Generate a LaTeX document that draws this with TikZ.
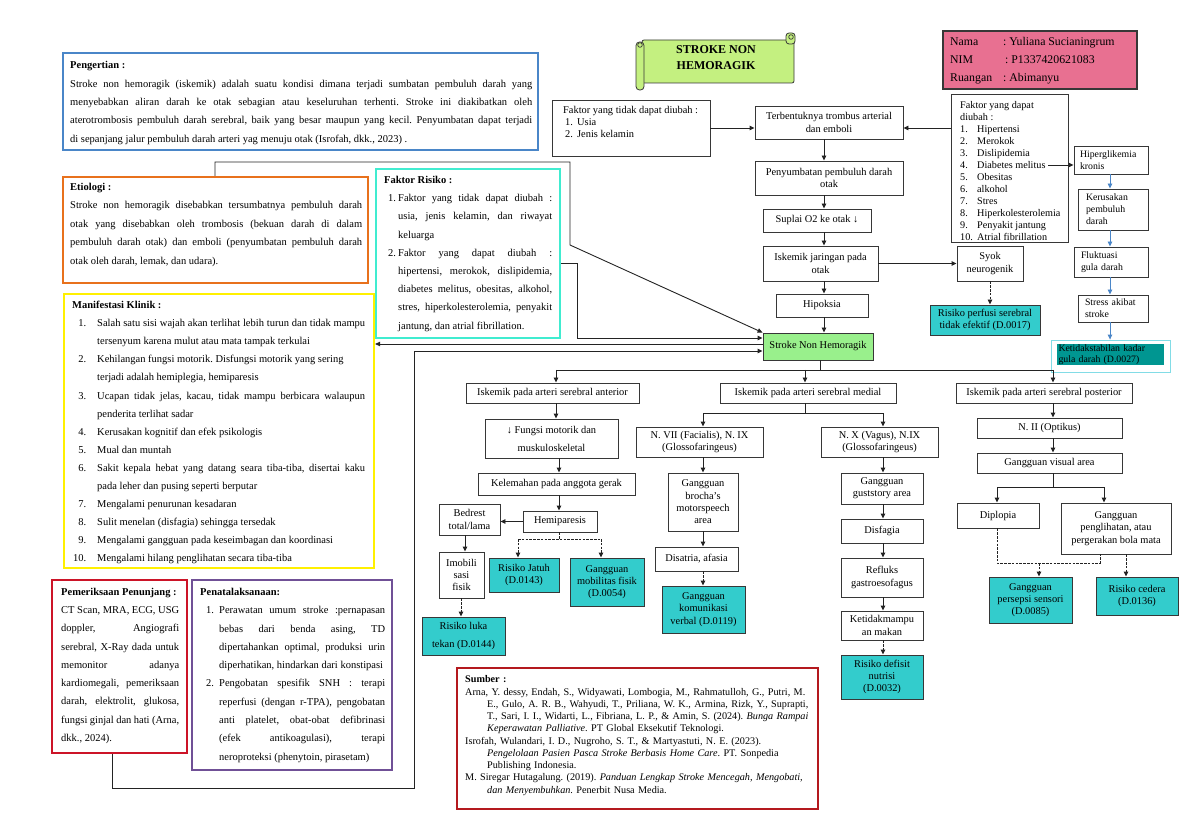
\documentclass[tikz,border=0pt]{standalone}
\usepackage{fontspec}
\setmainfont{Liberation Serif}
\usetikzlibrary{arrows.meta}
\setlength\parindent{0pt}
\setlength\parskip{0pt}
\frenchspacing
\definecolor{bdc}{RGB}{55,55,55}
\definecolor{lnc}{RGB}{35,35,35}
\definecolor{pblue}{RGB}{74,134,200}
\definecolor{porange}{RGB}{232,113,28}
\definecolor{pcyan}{RGB}{64,236,208}
\definecolor{pyellow}{RGB}{255,240,0}
\definecolor{pred}{RGB}{204,20,40}
\definecolor{ppurple}{RGB}{112,80,150}
\definecolor{pdred}{RGB}{180,25,30}
\definecolor{ppink}{RGB}{232,112,145}
\definecolor{pgreen}{RGB}{153,240,140}
\definecolor{ptitle}{RGB}{196,240,128}
\definecolor{pteal}{RGB}{51,204,204}
\definecolor{pdteal}{RGB}{0,150,145}
\definecolor{plcyan}{RGB}{130,220,230}
\newcommand\fs{\fontsize{10.4}{12.3}\selectfont}
\newcommand\bx[7][]{\node[fb,#1,minimum width={(#5)-(#3)},minimum height={(#6)-(#4)}] (#2) at ({((#3)+(#5))/2},{((#4)+(#6))/2}) {#7};}
\newcommand\itm[3]{\par\noindent\hangindent=#1\hangafter=1\hbox to #1{\hskip#2\relax#3\hfil}\ignorespaces}
\newcommand\mitm[1]{\par\noindent\hangindent=25pt\hangafter=1\hbox to 25pt{\hbox to 14pt{\hfil#1}\hfil}\ignorespaces}
\newcommand\nb[1]{\makebox[17pt][l]{#1}}
\tikzset{
 fb/.style={draw=bdc, line width=0.9pt, inner sep=1pt, align=center, font=\fs},
 tl/.style={fill=pteal},
 arr/.style={draw=lnc, line width=0.9pt, -{Triangle[length=5pt,width=4.5pt]}},
 dar/.style={arr, dash pattern=on 2.5pt off 1.3pt},
 cn/.style={draw=lnc, line width=0.9pt},
 dcn/.style={cn, dash pattern=on 2.5pt off 1.3pt},
 barr/.style={draw=pblue, line width=0.9pt, -{Triangle[length=5pt,width=4.5pt]}},
 pbox/.style={line width=1.8pt, inner sep=0pt},
 ptx/.style={anchor=north west, inner sep=0pt, align=justify, font=\fontsize{10.5}{18.3}\selectfont},
}
\begin{document}
\begin{tikzpicture}[x=1pt,y=-1pt]
\fill[white] (0,0) rectangle (1200,818);
\useasboundingbox (0,0) rectangle (1200,818);

% ---------- Pengertian ----------
\node[pbox,draw=pblue,minimum width=475,minimum height=97] (peng) at (300.5,101.5) {};
\node[ptx,text width=462pt] (pengT) at (70,61.5) {\textbf{Pengertian :}\par
Stroke non hemoragik (iskemik) adalah suatu kondisi dimana terjadi sumbatan pembuluh darah yang\linebreak
menyebabkan aliran darah ke otak sebagian atau keseluruhan terhenti. Stroke ini diakibatkan oleh\linebreak
aterotrombosis pembuluh darah serebral, baik yang besar maupun yang kecil. Penyumbatan dapat terjadi\linebreak
di sepanjang jalur pembuluh darah arteri yag menuju otak (Isrofah, dkk., 2023) .\par};

% ---------- Etiologi ----------
\node[pbox,draw=porange,line width=2.2pt,minimum width=305,minimum height=106] (etio) at (215.5,230) {};
\node[ptx,text width=292pt,font=\fontsize{10.5}{18.5}\selectfont] (etioT) at (70,183) {\textbf{Etiologi :}\par
Stroke non hemoragik disebabkan tersumbatnya pembuluh darah\linebreak
otak yang disebabkan oleh trombosis (bekuan darah di dalam\linebreak
pembuluh darah otak) dan emboli (penyumbatan pembuluh darah\linebreak
otak oleh darah, lemak, dan udara).\par};

% ---------- Faktor Risiko ----------
\node[pbox,draw=pcyan,line width=2.2pt,minimum width=184,minimum height=169] (fr) at (468,253.5) {};
\node[ptx,text width=168pt,font=\fontsize{10.5}{18.2}\selectfont] (frT) at (384,176) {\textbf{Faktor Risiko :}
\itm{14pt}{4pt}{1.}Faktor yang tidak dapat diubah :\linebreak usia, jenis kelamin, dan riwayat\linebreak keluarga
\itm{14pt}{4pt}{2.}Faktor yang dapat diubah :\linebreak hipertensi, merokok, dislipidemia,\linebreak diabetes melitus, obesitas, alkohol,\linebreak stres, hiperkolesterolemia, penyakit\linebreak jantung, dan atrial fibrillation.\par};

% ---------- Manifestasi ----------
\node[pbox,draw=pyellow,line width=2.2pt,minimum width=310,minimum height=274] (manif) at (219,431) {};
\node[ptx,text width=293pt,font=\fontsize{10.5}{18.1}\selectfont] (manifT) at (72,301) {\textbf{Manifestasi Klinik :}
\mitm{1.}Salah satu sisi wajah akan terlihat lebih turun dan tidak mampu\linebreak tersenyum karena mulut atau mata tampak terkulai
\mitm{2.}Kehilangan fungsi motorik. Disfungsi motorik yang sering\newline terjadi adalah hemiplegia, hemiparesis
\mitm{3.}Ucapan tidak jelas, kacau, tidak mampu berbicara walaupun\linebreak penderita terlihat sadar
\mitm{4.}Kerusakan kognitif dan efek psikologis
\mitm{5.}Mual dan muntah
\mitm{6.}Sakit kepala hebat yang datang seara tiba-tiba, disertai kaku\linebreak pada leher dan pusing seperti berputar
\mitm{7.}Mengalami penurunan kesadaran
\mitm{8.}Sulit menelan (disfagia) sehingga tersedak
\mitm{9.}Mengalami gangguan pada keseimbagan dan koordinasi
\mitm{10.}Mengalami hilang penglihatan secara tiba-tiba\par};

% ---------- Pemeriksaan ----------
\node[pbox,draw=pred,line width=2.2pt,minimum width=135,minimum height=173] (pem) at (119.5,666.5) {};
\node[ptx,text width=118pt,font=\fontsize{10.5}{18.25}\selectfont] (pemT) at (61,588) {\textbf{Pemeriksaan Penunjang :}\par
CT Scan, MRA, ECG, USG\linebreak doppler, Angiografi\linebreak serebral, X-Ray dada untuk\linebreak memonitor adanya\linebreak kardiomegali, pemeriksaan\linebreak darah, elektrolit, glukosa,\linebreak fungsi ginjal dan hati (Arna,\linebreak dkk., 2024).\par};

% ---------- Penatalaksanaan ----------
\node[pbox,draw=ppurple,line width=2.2pt,minimum width=200,minimum height=190] (pen) at (292,675) {};
\node[ptx,text width=185pt,font=\fontsize{10.5}{18.3}\selectfont] (penT) at (200,588) {\textbf{Penatalaksanaan:}
\itm{19pt}{6pt}{1.}Perawatan umum stroke :pernapasan\linebreak bebas dari benda asing, TD\linebreak dipertahankan optimal, produksi urin\linebreak diperhatikan, hindarkan dari konstipasi
\itm{19pt}{6pt}{2.}Pengobatan spesifik SNH : terapi\linebreak reperfusi (dengan r-TPA), pengobatan\linebreak anti platelet, obat-obat defibrinasi\linebreak (efek antikoagulasi), terapi\linebreak neroproteksi (phenytoin, pirasetam)\par};

% ---------- Sumber ----------
\node[pbox,draw=pdred,line width=2.2pt,minimum width=361,minimum height=141] (sum) at (637.5,738.5) {};
\node[anchor=north west,inner sep=0pt,align=left,text width=400pt,font=\fontsize{10.2}{12.25}\selectfont] (sumT) at (465,675.5) {\textbf{Sumber :}\par
\hangindent=22pt\hangafter=1 Arna, Y. dessy, Endah, S., Widyawati, Lombogia, M., Rahmatulloh, G., Putri, M.\newline E., Gulo, A. R. B., Wahyudi, T., Priliana, W. K., Armina, Rizk, Y., Suprapti,\newline T., Sari, I. I., Widarti, L., Fibriana, L. P., \& Amin, S. (2024). \textit{Bunga Rampai}\newline \textit{Keperawatan Palliative}. PT Global Eksekutif Teknologi.\par
\hangindent=22pt\hangafter=1 Isrofah, Wulandari, I. D., Nugroho, S. T., \& Martyastuti, N. E. (2023).\newline \textit{Pengelolaan Pasien Pasca Stroke Berbasis Home Care}. PT. Sonpedia\newline Publishing Indonesia.\par
\hangindent=22pt\hangafter=1 M. Siregar Hutagalung. (2019). \textit{Panduan Lengkap Stroke Mencegah, Mengobati,}\newline \textit{dan Menyembuhkan}. Penerbit Nusa Media.\par};

% ---------- Title banner ----------
\node[draw=bdc,fill=ptitle,line width=0.8pt,rounded corners=2pt,minimum width=152,minimum height=43] (title) at (718,61.5) {};
\draw[draw=bdc,fill=ptitle,line width=0.8pt,rounded corners=3.5pt] (636,42) rectangle (644,90);
\draw[draw=bdc,fill=ptitle,line width=0.7pt] (640,45) circle (2.3);
\draw[draw=bdc,fill=ptitle,line width=0.8pt,rounded corners=3pt] (786,33) rectangle (795,44);
\draw[draw=bdc,fill=ptitle,line width=0.7pt] (791,37) circle (2.3);
\node[font=\bfseries\fontsize{12}{16.5}\selectfont,align=center] (titleT) at (716,57.5) {STROKE NON\\HEMORAGIK};

% ---------- Name box ----------
\node[draw=bdc,fill=ppink,line width=1.2pt,minimum width=194,minimum height=58] (namebox) at (1040,60) {};
\node[anchor=north west,inner sep=0pt,align=left,font=\fontsize{11.8}{17.8}\selectfont] (nameT) at (950,37.5) {\makebox[53pt][l]{Nama}: Yuliana Sucianingrum\\\makebox[53pt][l]{NIM}\hspace{2pt}: P1337420621083\\\makebox[53pt][l]{Ruangan}: Abimanyu};

% ---------- Top flow ----------
\bx{ftd}{552}{100}{710}{156}{}
\node[anchor=north west,inner sep=0pt,align=left,font=\fontsize{10.4}{11.8}\selectfont] (ftdT) at (563,106) {Faktor yang tidak dapat diubah :\\\hspace*{2pt}\makebox[12pt][l]{1.}Usia\\\hspace*{2pt}\makebox[12pt][l]{2.}Jenis kelamin};
\bx{terb}{755}{106}{903}{139}{Terbentuknya trombus arterial\\dan emboli}
\bx{peny}{755}{161}{903}{195}{Penyumbatan pembuluh darah\\otak}
\bx{supl}{763}{209}{871}{232}{Suplai O2 ke otak ↓}
\bx{iskj}{763}{246}{878}{281}{Iskemik jaringan pada\\otak}
\bx{hip}{776}{294}{868}{317}{Hipoksia}
\bx[fill=pgreen]{stroke}{763}{333}{873}{360}{Stroke Non Hemoragik}

\bx{fdd}{951}{94}{1068}{242}{}
\node[anchor=north west,inner sep=0pt,align=left,font=\fontsize{10.2}{12}\selectfont] (fddT) at (960,101.5) {Faktor yang dapat\\diubah :\\\nb{1.}Hipertensi\\\nb{2.}Merokok\\\nb{3.}Dislipidemia\\\nb{4.}Diabetes melitus\\\nb{5.}Obesitas\\\nb{6.}alkohol\\\nb{7.}Stres\\\nb{8.}Hiperkolesterolemia\\\nb{9.}Penyakit jantung\\\nb{10.}Atrial fibrillation};
\coordinate (dmE) at (1048,165);
\bx{syok}{957}{246}{1023}{281}{Syok\\neurogenik}
\bx[tl]{perf}{930}{305}{1040}{335}{Risiko perfusi serebral\\tidak efektif (D.0017)}

\bx[align=left,text width=62pt,font=\fontsize{9.8}{12}\selectfont]{hiper}{1074}{146}{1148}{174}{Hiperglikemia\\kronis}
\bx[align=left,text width=54pt,font=\fontsize{9.8}{12}\selectfont]{kerus}{1078}{189}{1148}{230}{Kerusakan\\pembuluh\\darah}
\bx[align=left,text width=60pt,font=\fontsize{9.8}{12}\selectfont]{fluk}{1074}{247}{1148}{277}{Fluktuasi\\gula darah}
\bx[align=left,text width=56pt,font=\fontsize{9.8}{12}\selectfont]{stres}{1078}{295}{1148}{322}{Stress akibat\\stroke}
\node[draw=plcyan,line width=0.8pt,minimum width=119,minimum height=32,inner sep=0pt] (kt) at (1110.5,356) {};
\node[fill=pdteal,minimum width=107,minimum height=21,inner sep=0pt,align=left,text width=104pt,font=\fontsize{9.8}{11}\selectfont] (ktI) at (1110.5,354.5) {Ketidakstabilan kadar\\gula darah (D.0027)};

% ---------- Tree: anterior ----------
\bx{ant}{466}{383}{639}{403}{Iskemik pada arteri serebral anterior}
\bx[font=\fontsize{10.4}{18}\selectfont]{fung}{485}{419}{618}{458}{↓ Fungsi motorik dan\\muskuloskeletal}
\bx{kel}{478}{473}{635}{495}{Kelemahan pada anggota gerak}
\bx{hemi}{523}{511}{597}{532}{Hemiparesis}
\bx{bed}{439}{504}{500}{535}{Bedrest\\total/lama}
\bx{imo}{439}{552}{484}{598}{Imobili\\sasi\\fisik}
\bx[tl,font=\fontsize{10.4}{18}\selectfont]{luka}{422}{617}{505}{655}{Risiko luka\\tekan (D.0144)}
\bx[tl]{jatuh}{489}{558}{559}{592}{Risiko Jatuh\\(D.0143)}
\bx[tl]{mob}{570}{558}{644}{606}{Gangguan\\mobilitas fisik\\(D.0054)}

% ---------- Tree: medial ----------
\bx{med}{720}{383}{896}{403}{Iskemik pada arteri serebral medial}
\bx{n7}{636}{427}{763}{457}{N. VII (Facialis), N. IX\\(Glossofaringeus)}
\bx{n10}{821}{427}{938}{457}{N. X (Vagus), N.IX\\(Glossofaringeus)}
\bx{broc}{668}{473}{738}{531}{Gangguan\\brocha’s\\motorspeech\\area}
\bx{dis}{655}{547}{738}{571}{Disatria, afasia}
\bx[tl]{kom}{662}{586}{745}{633}{Gangguan\\komunikasi\\verbal (D.0119)}
\bx{gust}{841}{473}{923}{504}{Gangguan\\guststory area}
\bx{disf}{841}{519}{923}{543}{Disfagia}
\bx{refl}{841}{558}{923}{597}{Refluks\\gastroesofagus}
\bx{ktm}{841}{611}{923}{640}{Ketidakmampu\\an makan}
\bx[tl]{defi}{841}{655}{923}{699}{Risiko defisit\\nutrisi\\(D.0032)}

% ---------- Tree: posterior ----------
\bx{post}{956}{383}{1132}{403}{Iskemik pada arteri serebral posterior}
\bx{n2}{977}{418}{1122}{438}{N. II (Optikus)}
\bx{vis}{977}{453}{1122}{473}{Gangguan visual area}
\bx{dip}{957}{503}{1039}{528}{Diplopia}
\bx{gp}{1061}{503}{1171}{554}{Gangguan\\penglihatan, atau\\pergerakan bola mata}
\bx[tl]{pers}{989}{577}{1072}{623}{Gangguan\\persepsi sensori\\(D.0085)}
\bx[tl]{rc}{1096}{577}{1178}{615}{Risiko cedera\\(D.0136)}

% ---------- Connectors: top ----------
\draw[arr] (ftd.east) -- (ftd.east -| terb.west);
\draw[arr] (fdd.west |- ftd.east) -- (terb.east |- ftd.east);
\coordinate (cx) at (824,0);
\draw[arr] (terb.south -| cx) -- (peny.north -| cx);
\draw[arr] (peny.south -| cx) -- (supl.north -| cx);
\draw[arr] (supl.south -| cx) -- (iskj.north -| cx);
\draw[arr] (iskj.south -| cx) -- (hip.north -| cx);
\draw[arr] (hip.south -| cx) -- (stroke.north -| cx);
\draw[arr] (iskj.east) -- (iskj.east -| syok.west);
\draw[dar] (syok.south) -- (syok.south |- perf.north);
\draw[arr] (dmE) -- (dmE -| hiper.west);
\coordinate (bxc) at (1110,0);
\draw[barr] (hiper.south -| bxc) -- (kerus.north -| bxc);
\draw[barr] (kerus.south -| bxc) -- (fluk.north -| bxc);
\draw[barr] (fluk.south -| bxc) -- (stres.north -| bxc);
\draw[barr] (stres.south -| bxc) -- (kt.north -| bxc);

% ---------- Connectors: left boxes to stroke ----------
\coordinate (e1) at (215,162);
\coordinate (e2) at (570,162);
\coordinate (e3) at (570,245);
\draw[arr] (etio.north -| e1) -- (e1) -- (e2) -- (e3) -- (stroke.north west);
\coordinate (frk) at (577,263);
\draw[arr] (fr.east |- frk) -- (frk) |- ([yshift=8.5pt]stroke.west);
\draw[arr] ([yshift=2.5pt]stroke.west) -- ([yshift=2.5pt]stroke.west -| manif.east);
\coordinate (pv) at (112,788);
\coordinate (pk) at (414,788);
\draw[arr] (pem.south -| pv) -- (pv) -- (pk) |- ([yshift=-4.5pt]stroke.west);

% ---------- Connectors: tree ----------
\coordinate (sb) at (820,370);
\coordinate (ta) at (556,370);
\coordinate (tm) at (805,370);
\coordinate (tp) at (1053,370);
\draw[cn] (stroke.south -| sb) -- (sb);
\draw[cn] (ta) -- (tp);
\draw[arr] (ta) -- (ta |- ant.north);
\draw[arr] (tm) -- (tm |- med.north);
\draw[arr] (tp) -- (tp |- post.north);

\coordinate (a0) at (556,0);
\coordinate (a1) at (559,0);
\coordinate (a2) at (465,0);
\coordinate (a3) at (461,0);
\draw[arr] (ant.south -| a0) -- (fung.north -| a0);
\draw[arr] (fung.south -| a1) -- (kel.north -| a1);
\draw[arr] (kel.south -| a1) -- (hemi.north -| a1);
\draw[arr] (hemi.west) -- (hemi.west -| bed.east);
\draw[arr] (bed.south -| a2) -- (imo.north -| a2);
\draw[dar] (imo.south -| a3) -- (luka.north -| a3);
\coordinate (h0) at (559,539);
\coordinate (h1) at (518,539);
\coordinate (h2) at (601,539);
\draw[dcn] (hemi.south -| h0) -- (h0);
\draw[dcn] (h1) -- (h2);
\draw[dar] (h1) -- (h1 |- jatuh.north);
\draw[dar] (h2) -- (h2 |- mob.north);

\coordinate (m0) at (805,413);
\coordinate (m1) at (703,413);
\coordinate (m2) at (883,413);
\draw[cn] (med.south -| m0) -- (m0);
\draw[cn] (m1) -- (m2);
\draw[arr] (m1) -- (m1 |- n7.north);
\draw[arr] (m2) -- (m2 |- n10.north);
\draw[arr] (n7.south -| m1) -- (broc.north -| m1);
\draw[arr] (broc.south -| m1) -- (dis.north -| m1);
\draw[dar] (dis.south -| m1) -- (kom.north -| m1);
\draw[arr] (n10.south -| m2) -- (gust.north -| m2);
\draw[arr] (gust.south -| m2) -- (disf.north -| m2);
\draw[arr] (disf.south -| m2) -- (refl.north -| m2);
\draw[arr] (refl.south -| m2) -- (ktm.north -| m2);
\draw[dar] (ktm.south -| m2) -- (defi.north -| m2);

\coordinate (p0) at (1053,0);
\coordinate (p1) at (1053,487);
\coordinate (p2) at (997,487);
\coordinate (p3) at (1104,487);
\draw[arr] (post.south -| p0) -- (n2.north -| p0);
\draw[arr] (n2.south -| p0) -- (vis.north -| p0);
\draw[cn] (vis.south -| p0) -- (p1);
\draw[cn] (p2) -- (p3);
\draw[arr] (p2) -- (p2 |- dip.north);
\draw[arr] (p3) -- (p3 |- gp.north);
\coordinate (d0) at (997,563);
\coordinate (d1) at (1100,563);
\coordinate (d2) at (1039,563);
\coordinate (d3) at (1126,0);
\draw[dcn] (dip.south -| d0) -- (d0) -- (d1) -- (d1 |- gp.south);
\draw[dar] (d2) -- (d2 |- pers.north);
\draw[dar] (gp.south -| d3) -- (rc.north -| d3);
\end{tikzpicture}
\end{document}
